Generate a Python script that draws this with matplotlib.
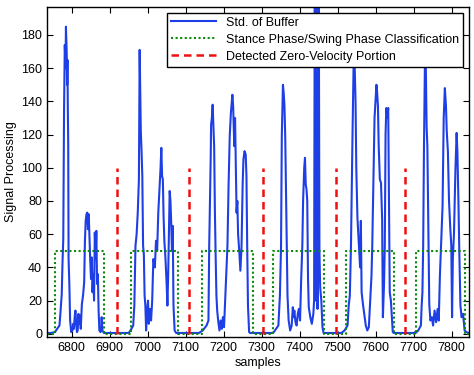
import matplotlib
matplotlib.use("Agg")
import matplotlib.pyplot as plt

# ---- data ----
# std. of buffer (sample index, value)
buf_x = [6735, 6745, 6756, 6762, 6768, 6771, 6774, 6776, 6778, 6780, 6782, 6784, 6785, 6787,
         6788, 6789, 6790, 6791, 6792, 6794, 6796, 6799, 6802, 6804, 6806, 6808, 6810, 6812,
         6814, 6816, 6818, 6820, 6822, 6824, 6827, 6830, 6833, 6835, 6837, 6839, 6841, 6843,
         6845, 6847, 6849, 6851, 6853, 6855, 6857, 6859, 6861, 6863, 6865, 6867, 6869, 6871,
         6873, 6876, 6878, 6879, 6881, 6885, 6950, 6955, 6962, 6965, 6968, 6971, 6974, 6977,
         6979, 6981, 6982, 6984, 6986, 6988, 6990, 6992, 6994, 6996, 6998, 7001, 7003, 7006,
         7009, 7012, 7015, 7019, 7022, 7025, 7028, 7031, 7034, 7036, 7038, 7040, 7042, 7044,
         7047, 7050, 7052, 7054, 7056, 7058, 7060, 7062, 7064, 7066, 7068, 7071, 7075, 7135,
         7145, 7155, 7160, 7162, 7164, 7166, 7167, 7169, 7171, 7173, 7175, 7177, 7179, 7181,
         7183, 7186, 7189, 7192, 7195, 7198, 7201, 7204, 7207, 7210, 7213, 7216, 7219, 7223,
         7225, 7228, 7230, 7232, 7234, 7236, 7238, 7241, 7244, 7247, 7250, 7252, 7255, 7258,
         7260, 7262, 7264, 7267, 7270, 7330, 7335, 7344, 7348, 7351, 7353, 7356, 7358, 7360,
         7362, 7364, 7366, 7368, 7371, 7375, 7379, 7382, 7384, 7386, 7389, 7392, 7395, 7398,
         7401, 7404, 7407, 7409, 7412, 7414, 7416, 7418, 7420, 7422, 7424, 7428, 7432, 7436,
         7438, 7440, 7441, 7442, 7443, 7444, 7445, 7446, 7447, 7448, 7449, 7450, 7452, 7454,
         7457, 7460, 7463, 7510, 7518, 7526, 7529, 7532, 7535, 7539, 7543, 7545, 7547, 7549,
         7552, 7556, 7559, 7561, 7563, 7567, 7570, 7574, 7578, 7582, 7585, 7589, 7591, 7594,
         7597, 7602, 7604, 7606, 7608, 7611, 7614, 7617, 7619, 7622, 7624, 7626, 7628, 7631,
         7633, 7635, 7637, 7640, 7642, 7645, 7648, 7705, 7712, 7719, 7721, 7723, 7725, 7727,
         7730, 7732, 7734, 7736, 7738, 7741, 7744, 7748, 7751, 7755, 7759, 7763, 7766, 7769,
         7773, 7776, 7779, 7782, 7785, 7787, 7790, 7793, 7796, 7799, 7801, 7803, 7806, 7810,
         7813, 7815, 7818, 7820, 7823, 7826, 7830, 7834, 7839, 7845]
buf_y = [0.5, 0.5, 1, 3, 5, 14, 24, 43, 57, 133, 174, 160, 185, 170,
         150, 165, 135, 115, 45, 30, 8, 1, 2, 6, 3, 10, 14, 6,
         1, 2, 12, 6, 11, 3, 18, 23, 31, 56, 68, 72, 73, 63,
         72, 58, 44, 33, 46, 25, 36, 20, 61, 45, 62, 30, 36, 14,
         2, 1, 3, 10, 2, 0.5, 0.5, 2, 5, 17, 53, 60, 73, 93,
         171, 140, 122, 110, 95, 53, 48, 23, 17, 2, 12, 20, 6, 15,
         8, 20, 45, 40, 56, 50, 73, 86, 100, 112, 95, 93, 70, 56,
         45, 30, 17, 35, 60, 86, 80, 67, 50, 65, 17, 2, 0.5, 0.5,
         2, 5, 8, 53, 80, 107, 126, 130, 138, 125, 113, 73, 46, 23,
         14, 7, 2, 8, 3, 10, 4, 20, 35, 53, 90, 119, 133, 144,
         137, 113, 130, 100, 73, 80, 60, 50, 38, 52, 90, 105, 110, 108,
         95, 52, 17, 1, 0.5, 0.5, 2, 5, 23, 53, 119, 150, 145, 137,
         119, 87, 53, 23, 8, 2, 5, 16, 10, 14, 7, 5, 12, 15,
         8, 33, 53, 80, 100, 106, 90, 87, 80, 33, 16, 10, 6, 12,
         20, 250, 30, 250, 20, 260, 25, 250, 15, 255, 40, 240, 50, 28,
         20, 4, 0.5, 0.5, 2, 5, 17, 23, 53, 119, 178, 160, 140, 100,
         70, 53, 40, 68, 25, 17, 12, 5, 2, 4, 17, 35, 53, 93,
         130, 150, 145, 137, 113, 93, 91, 69, 10, 30, 53, 120, 136, 130,
         136, 77, 25, 20, 12, 1, 0.5, 0.5, 2, 5, 17, 25, 53, 110,
         172, 160, 125, 113, 77, 18, 8, 10, 5, 14, 7, 15, 8, 35,
         60, 77, 130, 148, 137, 122, 110, 80, 65, 53, 10, 45, 60, 100,
         121, 110, 77, 50, 17, 10, 12, 2, 1, 0.5]

# stance / swing classification (0 = stance, 50 = swing)
phase_x = [6735, 6757, 6757, 6884, 6884, 6956, 6956, 7081, 7081, 7144, 7144, 7278, 7278,
           7330, 7330, 7464, 7464, 7521, 7521, 7649, 7649, 7706, 7706, 7835, 7835, 7845]
phase_y = [0, 0, 50, 50, 0, 0, 50, 50, 0, 0, 50, 50, 0,
           0, 50, 50, 0, 0, 50, 50, 0, 0, 50, 50, 0, 0]

# detected zero-velocity positions
zv_x = [6919, 7109, 7304, 7495, 7676]
zv_height = 100

BLUE = "#1f3fe6"; GREEN = "#0a8a0a"; RED = "#f01010"

plt.rcParams.update({
    "font.family": ["Liberation Sans", "DejaVu Sans"],
    "font.size": 9,
})

fig = plt.figure(figsize=(4.74, 3.75), dpi=100)
ax = fig.add_axes([0.099, 0.101, 0.890, 0.881])

ax.plot(buf_x, buf_y, color=BLUE, lw=1.5, label="Std. of Buffer")
ax.plot(phase_x, phase_y, color=GREEN, lw=1.5, ls=(0, (1, 1.2)),
        label="Stance Phase/Swing Phase Classification")
for i, x in enumerate(zv_x):
    ax.plot([x, x], [0, zv_height], color=RED, lw=1.8, ls=(0, (3, 2)),
            label="Detected Zero-Velocity Portion" if i == 0 else None)

ax.set_xlim(6735, 7845)
ax.set_ylim(-2, 197)
ax.set_xticks(range(6800, 7801, 100))
ax.set_yticks(range(0, 181, 20))
ax.tick_params(direction="in", top=True, right=True, length=4, width=0.8, labelsize=9)
for s in ax.spines.values():
    s.set_linewidth(1.0)
ax.set_xlabel("samples", fontsize=9, labelpad=2)
ax.set_ylabel("Signal Processing", fontsize=9, labelpad=3)

leg = ax.legend(loc="upper right", fontsize=9, frameon=True, fancybox=False,
                framealpha=1, edgecolor="black", handlelength=3.6,
                borderaxespad=0.5, borderpad=0.3, labelspacing=0.4)
leg.get_frame().set_linewidth(1.0)

fig.savefig("out.png", dpi=100)
